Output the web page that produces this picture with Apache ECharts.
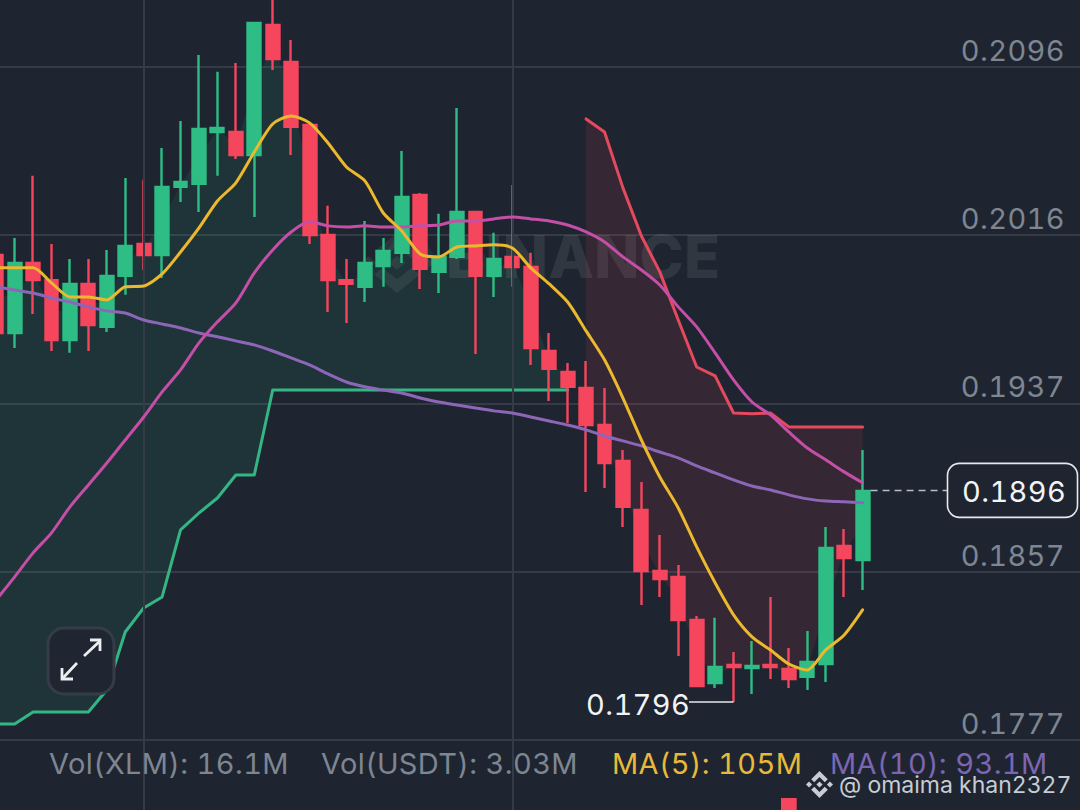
<!DOCTYPE html>
<html><head><meta charset="utf-8">
<style>html,body{margin:0;padding:0;background:#1e2530;overflow:hidden;width:1080px;height:810px}
#c{position:absolute;left:-13px;top:-20px;width:1106px;height:860px}
#c text{font-variant-numeric:tabular-nums !important;font-feature-settings:'tnum' 1 !important;letter-spacing:.4px}
#c text[style*="23px"]{letter-spacing:0}
</style>
<script src="https://cdn.jsdelivr.net/npm/echarts@6/dist/echarts.min.js"></script>
</head><body><div id="c"></div>
<script>
const opens=[.20069,.19699,.20031,.19950,.19666,.19932,.19728,.19970,.20121,.20069,.20392,.20406,.20652,.20652,.20543,.21159,.20984,.20685,.20164,.19950,.19918,.20017,.20079,.20354,.19989,.20060,.20273,.19970,.20060,.20012,.19614,.19515,.19439,.19263,.19093,.18861,.18571,.18543,.18339,.18040,.18126,.18111,.18126,.18107,.18069,.18130,.18690,.18623];
const closes=[.19699,.20031,.19950,.19666,.19932,.19737,.19970,.20112,.20069,.20392,.20415,.20666,.20671,.20543,.21169,.20998,.20676,.20164,.19950,.19932,.20031,.20088,.20344,.20003,.20060,.20273,.19970,.20050,.20012,.19628,.19529,.19444,.19263,.19083,.18875,.18571,.18533,.18339,.18026,.18116,.18116,.18121,.18116,.18059,.18140,.18680,.18633,.18950];
const lows=[.19666,.19628,.19789,.19614,.19605,.19614,.19704,.19880,.19998,.19960,.20320,.20273,.20444,.20524,.20249,.20946,.20543,.20121,.19799,.19747,.19846,.19918,.20031,.19908,.19889,.20050,.19600,.19870,.19918,.19548,.19377,.19273,.18946,.18965,.18780,.18410,.18448,.18168,.18021,.18017,.17950,.17988,.18059,.18017,.18007,.18045,.18448,.18481];
const highs=[.20140,.20150,.20444,.20121,.20050,.20050,.20093,.20434,.20425,.20576,.20704,.21017,.20937,.20979,.21169,.21325,.21088,.20685,.20302,.20050,.20230,.20150,.20562,.20363,.20264,.20766,.20273,.20174,.20401,.20079,.19699,.19557,.19567,.19439,.19145,.18993,.18742,.18600,.18358,.18349,.18187,.18239,.18448,.18206,.18287,.18780,.18770,.19145];
const maYellow=[.20008,.20008,.20008,.19937,.19870,.19870,.19856,.19918,.19922,.19979,.20083,.20197,.20325,.20411,.20557,.20690,.20728,.20695,.20600,.20486,.20420,.20268,.20183,.20074,.20060,.20107,.20112,.20117,.20102,.20008,.19932,.19846,.19709,.19572,.19391,.19192,.19017,.18870,.18685,.18515,.18363,.18259,.18197,.18130,.18102,.18197,.18268,.18387];
const maMagenta=[.18434,.18543,.18657,.18752,.18875,.18979,.19083,.19192,.19301,.19420,.19524,.19652,.19752,.19842,.19984,.20093,.20178,.20226,.20207,.20202,.20207,.20202,.20202,.20207,.20211,.20230,.20230,.20240,.20249,.20240,.20230,.20211,.20178,.20131,.20060,.19998,.19927,.19823,.19728,.19605,.19477,.19372,.19311,.19230,.19154,.19098,.19041,.18989];
const maPurple=[.19918,.19903,.19889,.19865,.19846,.19823,.19804,.19794,.19761,.19742,.19723,.19699,.19681,.19662,.19643,.19614,.19581,.19548,.19505,.19467,.19444,.19429,.19415,.19391,.19372,.19358,.19344,.19330,.19320,.19301,.19282,.19263,.19240,.19211,.19188,.19164,.19135,.19107,.19069,.19036,.19003,.18974,.18955,.18932,.18913,.18903,.18899,.18894];
const trendUp=[.17846,.17846,.17903,.17903,.17903,.17903,.18007,.18282,.18396,.18448,.18766,.18846,.18917,.19026,.19026,.19429,.19429,.19429,.19429,.19429,.19429,.19429,.19429,.19429,.19429,.19429,.19429,.19429,.19429,.19429,.19429,.19429];
const trendDown=[.20714,.20652,.20387,.20159,.19989,.19761,.19538,.19496,.19320,.19316,.19320,.19254,.19254,.19254,.19254,.19254];
const trendDownStart=32;
const volumes={43:126};
const tickMin=.1777,tickStep=.00798;
const lastPrice=.18953,lastLabel='0.1896',lowLabel='0.1796',lowIndex=40;
const crossIndices=[8,28];
const legendTexts=['Vol(XLM): 16.1M','Vol(USDT): 3.03M','MA(5): 105M','MA(10): 93.1M'];
const credit='@ omaima khan2327';
const brand='BINANCE';

const OX=13,OY=20;
const BG='#1e2530',GRID='#343b46',UP='#2ebd85',DOWN='#f6465d',GREY='#7e8692';
const cats=Array.from({length:60},(_,i)=>String(i));
const mids=opens.map((o,i)=>(o+closes[i])/2);
const N=opens.length;
const upDiff=trendUp.map((v,i)=>mids[i]-v);
const pad=a=>Array(trendDownStart).fill(null).concat(a);
const dnBase=pad(trendDown.map((v,i)=>mids[i+trendDownStart]));
const dnDiff=pad(trendDown.map((v,i)=>v-mids[i+trendDownStart]));
const vertical={silent:true,symbol:'none',label:{show:false},lineStyle:{color:GRID,width:2,type:'solid'},animation:false,data:crossIndices.map(i=>({xAxis:String(i)}))};
const logoParts=[
 [[38.73,53.2],[63.32,28.62],[87.92,53.22],[102.22,38.91],[63.32,0],[24.43,38.9]],
 [[0,63.31],[14.3,49],[28.61,63.31],[14.31,77.6]],
 [[38.73,73.41],[63.32,98],[87.92,73.4],[102.23,87.69],[63.32,126.61],[24.43,87.72]],
 [[98,63.31],[112.3,49.01],[126.61,63.31],[112.3,77.61]],
 [[77.83,63.3],[63.32,48.78],[48.82,63.28],[63.32,77.81]]];
const logo=(x,y,w,h,fill,z)=>logoParts.map(p=>({type:'polygon',z,shape:{points:p.map(q=>[x+q[0]*w/126.61,y+q[1]*h/126.61])},style:{fill}}));
const line=(name,data,color,z,smooth)=>({name,type:'line',data,symbol:'none',z:z||5,smooth:smooth||false,animation:false,silent:true,lineStyle:{color,width:3,cap:'round',join:'round'}});

const chart=echarts.init(document.getElementById('c'),null,{renderer:'svg'});
chart.setOption({
 backgroundColor:BG,animation:false,
 grid:[{left:0,top:0,width:1106,height:760},{left:0,top:760,width:1106,height:100}],
 xAxis:[
  {type:'category',gridIndex:0,data:cats,axisLine:{show:false},axisTick:{show:false},axisLabel:{show:false},splitLine:{show:false}},
  {type:'category',gridIndex:1,data:cats,axisLine:{show:false},axisTick:{show:false},axisLabel:{show:false},splitLine:{show:false}}],
 yAxis:[
  {type:'value',gridIndex:0,position:'right',min:tickMin,max:tickMin+760*.0000474,interval:tickStep,
   axisLine:{show:false},axisTick:{show:false},splitLine:{show:true,lineStyle:{color:GRID,width:2}},
   axisLabel:{inside:true,margin:28,showMaxLabel:false,showMinLabel:true,color:GREY,fontFamily:'Inter',fontSize:29,verticalAlign:'bottom',lineHeight:29,padding:[0,0,2,0],formatter:v=>v.toFixed(4)}},
  {type:'value',gridIndex:1,min:0,max:300,show:false}],
 series:[
  {name:'cross',type:'line',data:[],z:1,markLine:vertical},
  {name:'cross2',type:'bar',xAxisIndex:1,yAxisIndex:1,barWidth:15.7,z:3,silent:true,animation:false,
   data:cats.map((_,i)=>volumes[i]??null),itemStyle:{color:DOWN},markLine:vertical},
  Object.assign(line('upBase',trendUp,'#35b584',3),{stack:'up'}),
  {name:'upBand',type:'line',stack:'up',data:upDiff,symbol:'none',z:2,silent:true,animation:false,lineStyle:{width:0},areaStyle:{color:'rgba(46,189,133,0.10)',opacity:1}},
  {name:'dnBase',type:'line',stack:'dn',data:dnBase,symbol:'none',z:2,silent:true,animation:false,lineStyle:{width:0}},
  {name:'dnBand',type:'line',stack:'dn',data:dnDiff,symbol:'none',z:2,silent:true,animation:false,lineStyle:{width:0},areaStyle:{color:'rgba(246,70,93,0.11)',opacity:1}},
  line('trendDown',pad(trendDown),'#e5495e',3),
  {name:'price',type:'candlestick',z:4,silent:true,animation:false,barWidth:13.4,
   data:opens.map((o,i)=>[o,closes[i],lows[i],highs[i]]),
   itemStyle:{color:UP,color0:DOWN,borderColor:UP,borderColor0:DOWN,borderWidth:2.4}},
  line('maPurple',maPurple,'#8d66b8',5,.25),
  line('maMagenta',maMagenta,'#c54ea6',5,.25),
  line('maYellow',maYellow,'#ecb82d',5,.25),
 ]
});

const px=(i,v)=>{const p=chart.convertToPixel({gridIndex:0},[String(i),v]);return [p[0]-OX,p[1]-OY];};
const lastPt=px(N-1,lastPrice), lowPt=px(lowIndex,lows[lowIndex]);
const T=(text,x,y,fill,size,extra)=>({type:'text',z:20,x,y,style:Object.assign({text,fill,font:size+'px Inter',textVerticalAlign:'middle'},extra||{})});
const arrows=[[[84,656],[100,641]],[[90,640],[100,640],[100,651]],[[77,663],[62,679]],[[62,668],[62,679],[73,679]]];
chart.setOption({graphic:[{type:'group',x:OX,y:OY,children:[
  ...logo(360,233,74,60,'rgba(255,255,255,0.075)',0),
  {type:'text',z:0,x:446,y:256,style:{text:brand,fill:'rgba(255,255,255,0.085)',font:'800 59px Inter',textVerticalAlign:'middle'}},
  {type:'line',z:20,shape:{x1:lastPt[0]+8,y1:lastPt[1],x2:947,y2:lastPt[1]},style:{stroke:'#b8bdc6',lineWidth:1.5,lineDash:[7,5]}},
  {type:'rect',z:20,shape:{x:947.5,y:lastPt[1]-27,width:130,height:54,r:12},style:{fill:BG,stroke:'#e6e8ec',lineWidth:1.6}},
  T(lastLabel,962,lastPt[1]+1,'#f2f3f5',29),
  {type:'line',z:20,shape:{x1:689,y1:lowPt[1],x2:lowPt[0],y2:lowPt[1]},style:{stroke:'#e6e8ec',lineWidth:1.5}},
  T(lowLabel,586,lowPt[1]+2,'#f2f3f5',29),
  {type:'rect',z:20,shape:{x:48,y:628,width:66,height:66,r:16},style:{fill:'#1f2631',stroke:'#363c47',lineWidth:3}},
  ...arrows.map(a=>({type:'polyline',z:21,shape:{points:a},style:{fill:null,stroke:'#eceef1',lineWidth:2.8}})),
  T(legendTexts[0],49,763,GREY,29),
  T(legendTexts[1],321,763,GREY,29),
  T(legendTexts[2],612,763,'#e8b93a',29),
  T(legendTexts[3],830,763,'#7c65b3',29),
  ...logo(806,771,27,27,'#c8ccd3',22),
  T(credit,839,785,'#c8ccd3',23),
]}]});
</script></body></html>
